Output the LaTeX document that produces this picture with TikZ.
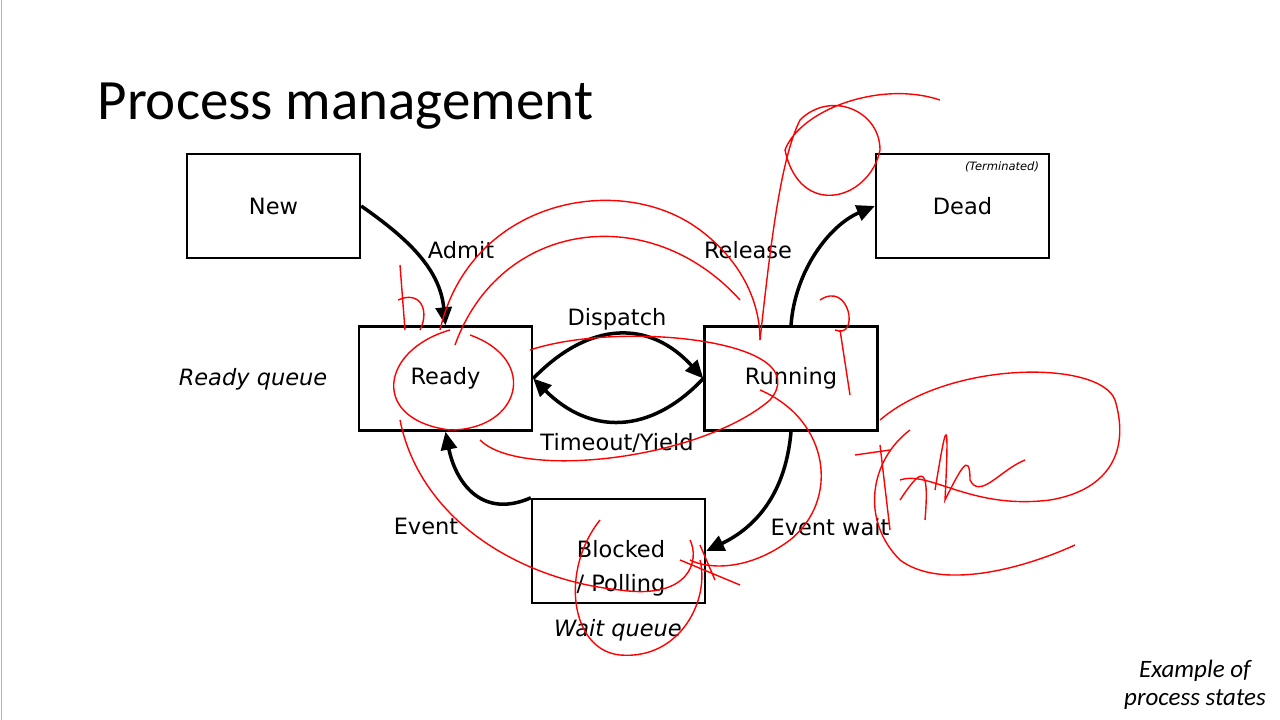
\documentclass[tikz,border=0pt]{standalone}
\usepackage{fontspec}
\setmainfont{DejaVu Sans}
\newfontfamily\calib{Carlito}
\usetikzlibrary{arrows.meta}
\begin{document}
\begin{tikzpicture}[x=1pt,y=-1pt,
  st/.style={draw,line width=2.4pt,minimum width=173pt,minimum height=104pt,font=\fontsize{22.5}{34}\selectfont},
  lab/.style={font=\fontsize{22.5}{27}\selectfont},
  ar/.style={line width=3.5pt,-{Triangle[length=18pt,width=16pt]}},
  scr/.style={red,line width=1.4pt}]
\useasboundingbox (0,0) rectangle (1280,720);
\fill[white] (0,0) rectangle (1280,720);
\draw[gray!60] (1,0) -- (1,720);
\node[anchor=west,font=\calib\fontsize{57}{64}\selectfont] (title) at (94,106) {Process management};
\node[st] (new) at (273.5,206) {New};
\node[st] (dead) at (962.5,206) {Dead};
\node[st] (ready) at (445.5,378.5) {Ready};
\node[st] (run) at (791,378.5) {Running};
\node[st] (blk) at (618.5,551) {};
\node[lab,align=center,font=\fontsize{22.5}{34}\selectfont] (blkt) at (621,568) {Blocked\\ / Polling};
\node[font=\itshape\fontsize{11.5}{13}\selectfont] (term) at (1002,167) {(Terminated)};
\draw[ar] (new.east) .. controls (410,240) and (440,270) .. (ready.north);
\draw[ar] (run.north) .. controls (795,270) and (830,225) .. (dead.west);
\draw[ar] (ready.east) .. controls (590,320) and (650,320) .. (run.west);
\draw[ar] (run.west) .. controls (650,435) and (590,435) .. (ready.east);
\draw[ar] (run.south) .. controls (785,500) and (750,530) .. (blk.east);
\draw[ar] (blk.north west) .. controls (480,520) and (455,480) .. (ready.south);
\node[lab] (l1) at (461,250) {Admit};
\node[lab] (l2) at (748,250) {Release};
\node[lab] (l3) at (617,319) {Dispatch};
\node[lab] (l4) at (617,443) {Timeout/Yield};
\node[lab] (l5) at (426,526) {Event};
\node[lab] (l6) at (830,527) {Event wait};
\node[lab,font=\itshape\fontsize{22.5}{27}\selectfont] (l7) at (253,379) {Ready queue};
\node[lab,font=\itshape\fontsize{22.5}{27}\selectfont] (l8) at (618,630) {Wait queue};
\node[align=center,font=\calib\itshape\fontsize{25}{28}\selectfont] (ex) at (1195,685) {Example of\\process states};
% red scribbles
\draw[scr] (440,330) .. controls (470,200) and (620,170) .. (700,230) .. controls (740,260) and (760,300) .. (760,340);
\draw[scr] (455,345) .. controls (500,220) and (650,200) .. (740,300);
\draw[scr] (450,330) .. controls (380,350) and (370,420) .. (450,430) .. controls (520,430) and (540,360) .. (470,335);
\draw[scr] (480,440) .. controls (520,480) and (700,460) .. (770,400) .. controls (820,340) and (620,320) .. (530,350);
\draw[scr] (760,340) .. controls (770,250) and (780,160) .. (800,120) .. controls (830,90) and (880,110) .. (880,150) .. controls (870,200) and (800,220) .. (785,150) .. controls (800,110) and (880,80) .. (940,100);
\draw[scr] (400,420) .. controls (420,520) and (520,580) .. (620,590) .. controls (690,600) and (700,560) .. (690,540);
\draw[scr] (600,520) .. controls (560,570) and (570,650) .. (620,655) .. controls (680,660) and (710,600) .. (700,560);
\draw[scr] (760,390) .. controls (830,420) and (840,500) .. (790,540) .. controls (750,570) and (710,570) .. (690,560);
\draw[scr] (680,560) -- (740,585) (700,545) -- (715,580);
\draw[scr] (820,300) .. controls (850,280) and (860,340) .. (835,330) (840,330) -- (850,395);
\draw[scr] (880,420) .. controls (950,360) and (1100,360) .. (1115,400) .. controls (1130,450) and (1110,490) .. (1050,500) .. controls (970,510) and (930,470) .. (900,480);
\draw[scr] (1075,545) .. controls (1020,570) and (940,590) .. (900,560) .. controls (860,520) and (870,460) .. (910,430);
\draw[scr] (855,455) -- (890,450) (880,445) -- (890,530) (900,500) .. controls (920,470) and (930,460) .. (925,520) (935,490) .. controls (945,430) and (950,400) .. (945,500) .. controls (960,470) and (970,450) .. (970,480) .. controls (980,500) and (1000,470) .. (1025,460);
\draw[scr] (400,265) -- (405,330) (398,300) .. controls (420,290) and (430,310) .. (420,330);
\end{tikzpicture}
\end{document}
